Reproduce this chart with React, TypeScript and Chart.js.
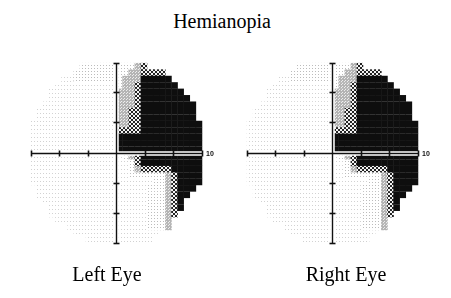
import React, { useEffect, useRef } from 'react';
import { Chart, registerables } from 'chart.js';

Chart.register(...registerables);

// ---------------- data ----------------
const TITLE = 'Hemianopia';
const EYE_LABELS = ['Left Eye', 'Right Eye'];
const AXIS_LIMIT = 10;
const AXIS_TICKS = [-10, -20 / 3, -10 / 3, 0, 10 / 3, 20 / 3, 10];
const AXIS_END_LABEL = '10';

// sensitivity levels: '.' normal, ':' mildly reduced, 'g' reduced, 'x' severe, '#' absolute defect
const LEVEL_KEYS = ['.', ':', 'g', 'x', '#'];
const LEVEL_NAMES = ['normal', 'mild', 'moderate', 'severe', 'absolute'];

// 28 x 28 greyscale cells, top row first
const LEFT_EYE_ROWS = [
  '        ::::::' + ':::gx         ',
  '       :::::::' + '::ggxxxx      ',
  '     ..:::::::' + ':ggg#####     ',
  '    ..........' + ':ggx######    ',
  '   ...........' + 'gggx#######   ',
  '   ...........' + 'gggx########  ',
  '  ............' + 'gggx######### ',
  ' .............' + 'ggxx######### ',
  ' .............' + 'ggxx######### ',
  '..............' + 'ggxx##########',
  '..............' + 'xxxx##########',
  '..............' + '##############',
  '..............' + '##############',
  '..............' + '##############',
  '..............' + '.:gx##########',
  '..............' + '..:x##########',
  '..............' + '..:gxxxxx#####',
  '..............' + '..::::::gx####',
  '..............' + '......::gx####',
  ' .............' + '.....:::gx### ',
  ' .............' + '.....:::gx##  ',
  '  ............' + '.....:::gx#   ',
  '   ...........' + '.....:::gx#   ',
  '   ...........' + '.....:::gx    ',
  '    ..........' + '.....:::g     ',
  '      ........' + '.....:::g     ',
  '       .......' + '.......       ',
  '         .....' + '......        ',
];

const RIGHT_EYE_ROWS = [
  '        ::::::' + ':::gx         ',
  '       :::::::' + '::ggxxxx      ',
  '     ..:::::::' + ':ggg#####     ',
  '    ..........' + ':ggx######    ',
  '   ...........' + 'gggx#######   ',
  '   ...........' + 'gggx########  ',
  '  ............' + 'gggx######### ',
  ' .............' + 'ggxx######### ',
  ' .............' + 'ggxx######### ',
  '..............' + 'ggxx##########',
  '..............' + 'xxxx##########',
  '..............' + '##############',
  '..............' + '##############',
  '..............' + '##############',
  '..............' + '.:gx##########',
  '..............' + '..:x##########',
  '..............' + '..:gxxxxx#####',
  '..............' + '..::::::gx####',
  '..............' + '......::gx####',
  ' .............' + '.....:::gx### ',
  ' .............' + '.....:::gx##  ',
  '  ............' + '.....:::gx#   ',
  '   ...........' + '.....:::gx#   ',
  '   ...........' + '.....:::gx    ',
  '    ..........' + '.....:::g     ',
  '      ........' + '.....:::g     ',
  '       .......' + '.......       ',
  '         .....' + '......        ',
];

// ---------------- styles ----------------
type Tile = { w: number; h: number; bg: string; fg: string; px: number[][] };
const LEVEL_TILES: Tile[] = [
  { w: 3, h: 4, bg: '#ffffff', fg: '#d2d2d2', px: [[1, 1]] },
  { w: 3, h: 3, bg: '#ffffff', fg: '#bcbcbc', px: [[1, 1]] },
  { w: 3, h: 3, bg: '#b4b4b4', fg: '#ececec', px: [[1, 1], [0, 2]] },
  { w: 4, h: 4, bg: '#f4f4f4', fg: '#222222', px: [[0, 0], [3, 0], [1, 1], [2, 1], [1, 2], [2, 2], [0, 3], [3, 3]] },
  { w: 1, h: 1, bg: '#0e0e0e', fg: '#0e0e0e', px: [] },
];

function makePattern(t: Tile): CanvasPattern | string {
  const c = document.createElement('canvas');
  c.width = t.w;
  c.height = t.h;
  const g = c.getContext('2d');
  if (!g) return t.bg;
  g.fillStyle = t.bg;
  g.fillRect(0, 0, t.w, t.h);
  g.fillStyle = t.fg;
  t.px.forEach(([x, y]) => g.fillRect(x, y, 1, 1));
  return g.createPattern(c, 'repeat') || t.bg;
}

const crisp = (v: number) => Math.round(v - 0.5) + 0.5;

const crossAxes = {
  id: 'crossAxes',
  afterDatasetsDraw(chart: any) {
    const { ctx } = chart;
    const xs = chart.scales.x;
    const ys = chart.scales.y;
    const x0 = crisp(xs.getPixelForValue(0));
    const y0 = crisp(ys.getPixelForValue(0));
    const xl = xs.getPixelForValue(xs.min);
    const xr = xs.getPixelForValue(xs.max);
    const yt = ys.getPixelForValue(ys.max);
    const yb = ys.getPixelForValue(ys.min);
    const seg = (a: number, b: number, c: number, d: number) => {
      ctx.beginPath();
      ctx.moveTo(a, b);
      ctx.lineTo(c, d);
      ctx.stroke();
    };
    ctx.save();
    ctx.strokeStyle = '#ffffff';
    ctx.lineWidth = 4.5;
    seg(xl, y0, xr, y0);
    seg(x0, yt, x0, yb);
    ctx.strokeStyle = '#111111';
    ctx.lineWidth = 1.4;
    seg(xl, y0, xr, y0);
    seg(x0, yt, x0, yb);
    ctx.lineWidth = 1.6;
    xs.ticks.forEach((t: any) => {
      if (t.value === 0) return;
      const p = crisp(xs.getPixelForValue(t.value));
      seg(p, y0 - 3, p, y0 + 3);
    });
    ys.ticks.forEach((t: any) => {
      if (t.value === 0) return;
      const p = crisp(ys.getPixelForValue(t.value));
      seg(x0 - 3, p, x0 + 3, p);
    });
    ctx.fillStyle = '#111111';
    ctx.font = 'bold 7px "Liberation Sans", Arial, sans-serif';
    ctx.textAlign = 'left';
    ctx.textBaseline = 'middle';
    ctx.fillText(AXIS_END_LABEL, xr + 4, y0 + 0.5);
    ctx.restore();
  },
};

type Pad = { left: number; right: number; top: number; bottom: number };

function EyeField({ rows, left, top, pad }: { rows: string[]; left: number; top: number; pad: Pad }) {
  const ref = useRef<HTMLCanvasElement>(null);
  useEffect(() => {
    const canvas = ref.current;
    if (!canvas) return;
    const patterns = LEVEL_TILES.map(makePattern);
    const cols = rows[0].length;
    const cell = (2 * AXIS_LIMIT) / cols;
    const radius = (c: any) => {
      const xs = c.chart.scales.x;
      const ys = c.chart.scales.y;
      const w = Math.abs(xs.getPixelForValue(cell) - xs.getPixelForValue(0));
      const h = Math.abs(ys.getPixelForValue(cell) - ys.getPixelForValue(0));
      return (Math.max(w, h) + 0.2) / Math.SQRT2;
    };
    const datasets = LEVEL_KEYS.map((key, li) => {
      const data: { x: number; y: number }[] = [];
      rows.forEach((row, r) => {
        for (let c = 0; c < row.length; c++) {
          if (row[c] === key) {
            data.push({ x: -AXIS_LIMIT + (c + 0.5) * cell, y: AXIS_LIMIT - (r + 0.5) * cell });
          }
        }
      });
      return {
        label: LEVEL_NAMES[li],
        data,
        order: LEVEL_KEYS.length - li,
        pointStyle: 'rect',
        pointRadius: radius,
        pointHoverRadius: radius,
        backgroundColor: patterns[li],
        pointBackgroundColor: patterns[li],
        borderWidth: 0,
        pointBorderWidth: 0,
        pointBorderColor: 'rgba(0,0,0,0)',
        clip: 4,
      };
    });
    const chart = new Chart(canvas, {
      type: 'scatter',
      data: { datasets } as any,
      options: {
        animation: false,
        responsive: false,
        events: [],
        layout: { padding: pad },
        scales: {
          x: {
            type: 'linear',
            min: -AXIS_LIMIT,
            max: AXIS_LIMIT,
            display: false,
            afterBuildTicks: (s: any) => {
              s.ticks = AXIS_TICKS.map((v) => ({ value: v }));
            },
          },
          y: {
            type: 'linear',
            min: -AXIS_LIMIT,
            max: AXIS_LIMIT,
            display: false,
            afterBuildTicks: (s: any) => {
              s.ticks = AXIS_TICKS.map((v) => ({ value: v }));
            },
          },
        },
        plugins: {
          legend: { display: false },
          tooltip: { enabled: false },
          title: { display: false },
        },
      } as any,
      plugins: [crossAxes as any],
    });
    return () => chart.destroy();
  }, [rows]);
  return (
    <canvas
      ref={ref}
      width={230}
      height={230}
      style={{ position: 'absolute', left, top, width: 230, height: 230 }}
    />
  );
}

const textStyle: React.CSSProperties = {
  position: 'absolute',
  transform: 'translateX(-50%)',
  whiteSpace: 'nowrap',
  fontFamily: '"Liberation Serif", "Times New Roman", serif',
  fontSize: 20,
  color: '#000',
  lineHeight: 'normal',
};

export default function App() {
  return (
    <div
      style={{
        position: 'fixed',
        left: 0,
        top: 0,
        width: 451,
        height: 298,
        background: '#ffffff',
        overflow: 'hidden',
      }}
    >
      <div style={{ ...textStyle, left: 222, top: 10 }}>{TITLE}</div>
      <EyeField rows={LEFT_EYE_ROWS} left={0} top={40} pad={{ left: 31, right: 28, top: 23, bottom: 27 }} />
      <EyeField rows={RIGHT_EYE_ROWS} left={221} top={40} pad={{ left: 26, right: 33, top: 23, bottom: 27 }} />
      <div style={{ ...textStyle, left: 107, top: 263 }}>{EYE_LABELS[0]}</div>
      <div style={{ ...textStyle, left: 346, top: 263 }}>{EYE_LABELS[1]}</div>
    </div>
  );
}
